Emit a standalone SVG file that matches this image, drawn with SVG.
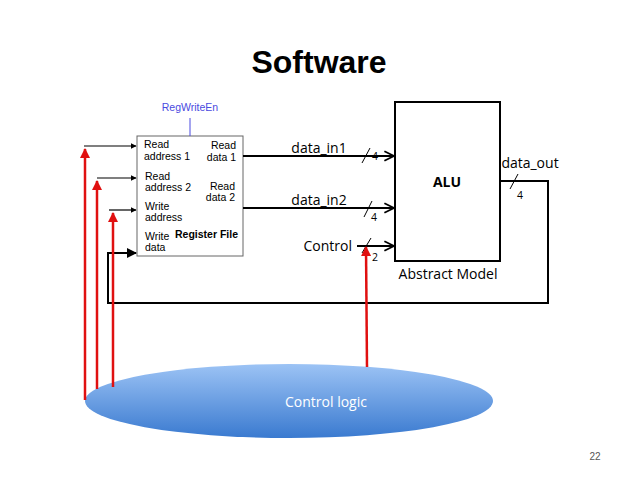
<svg xmlns="http://www.w3.org/2000/svg" width="638" height="478" viewBox="0 0 638 478">
<style>
.b{stroke:#000;stroke-width:2;fill:none}
.r{stroke:#e01010;stroke-width:2.5;fill:none}
.s{font-family:"Liberation Sans",Arial,sans-serif;font-size:10.5px;fill:#000}
.c{font-family:"Open Sans","DejaVu Sans",sans-serif;fill:#000}
</style>
<defs>
<marker id="a" viewBox="0 0 10 10" refX="9" refY="5" markerWidth="5" markerHeight="5" orient="auto"><path d="M0,0L10,5L0,10z" fill="#000"/></marker>
<marker id="o" viewBox="0 0 10 10" refX="9" refY="5" markerWidth="6" markerHeight="6" orient="auto"><path d="M1,1L9,5L1,9" fill="none" stroke="#000" stroke-width="1.5"/></marker>
<marker id="ra" viewBox="0 0 10 10" refX="9" refY="5" markerWidth="4" markerHeight="4" orient="auto"><path d="M0,0L10,5L0,10z" fill="#e01010"/></marker>
<linearGradient id="g" x1="0" y1="0" x2="0" y2="1"><stop offset="0" stop-color="#9cc3f5"/><stop offset="1" stop-color="#3a7ad0"/></linearGradient>
</defs>
<rect width="638" height="478" fill="#fff"/>
<text x="319" y="73" text-anchor="middle" font-family="Liberation Sans,Arial,sans-serif" font-weight="bold" font-size="32">Software</text>
<g id="ctrl">
<ellipse cx="289" cy="401" rx="204" ry="37" fill="url(#g)"/>
<text class="c" x="326" y="407" text-anchor="middle" font-size="14" style="fill:#fff">Control logic</text>
</g>
<g id="regfile">
<rect x="137" y="136" width="106" height="120" fill="#fff" stroke="#666" stroke-width="1"/>
<line x1="190" y1="118" x2="190" y2="136" stroke="#4a4ae0"/>
<text x="190" y="111" text-anchor="middle" font-family="Liberation Sans,Arial,sans-serif" font-size="10.5" fill="#4a4ae0">RegWriteEn</text>
<text class="s" x="144" y="148">Read</text><text class="s" x="144" y="160">address 1</text>
<text class="s" x="145" y="180">Read</text><text class="s" x="145" y="191">address 2</text>
<text class="s" x="145" y="210">Write</text><text class="s" x="145" y="221">address</text>
<text class="s" x="145" y="240">Write</text><text class="s" x="145" y="251">data</text>
<text class="s" x="236" y="149" text-anchor="end">Read</text><text class="s" x="236" y="161" text-anchor="end">data 1</text>
<text class="s" x="235" y="190" text-anchor="end">Read</text><text class="s" x="235" y="201" text-anchor="end">data 2</text>
<text class="s" x="238" y="238" text-anchor="end" font-weight="bold">Register File</text>
</g>
<g id="alu">
<rect x="395" y="102" width="105" height="159" fill="#fff" stroke="#000" stroke-width="2"/>
<text class="c" x="447" y="187" text-anchor="middle" font-size="14" font-weight="bold">ALU</text>
<text class="c" x="448" y="279" text-anchor="middle" font-size="14">Abstract Model</text>
</g>
<g id="connectors">
<line class="b" x1="243" y1="156" x2="394" y2="156" marker-end="url(#o)"/>
<line class="b" x1="243" y1="208" x2="394" y2="208" marker-end="url(#o)"/>
<line class="b" x1="357" y1="246" x2="394" y2="246" marker-end="url(#o)"/>
<path class="b" d="M500,181H548V303H108V253H136" marker-end="url(#a)"/>
<line stroke="#000" stroke-width="1.2" x1="84" y1="146" x2="136" y2="146" marker-end="url(#a)"/>
<line stroke="#000" stroke-width="1.2" x1="97" y1="178" x2="136" y2="178" marker-end="url(#a)"/>
<line stroke="#000" stroke-width="1.2" x1="109" y1="210" x2="136" y2="210" marker-end="url(#a)"/>
<line stroke="#000" stroke-width="1" x1="362" y1="163" x2="370" y2="148"/>
<line stroke="#000" stroke-width="1" x1="364" y1="217" x2="372" y2="201"/>
<line stroke="#000" stroke-width="1" x1="362" y1="253" x2="371" y2="238"/>
<line stroke="#000" stroke-width="1" x1="510" y1="189" x2="518" y2="174"/>
<text class="c" x="319" y="153" text-anchor="middle" font-size="14">data_in1</text>
<text class="c" x="319" y="205" text-anchor="middle" font-size="14">data_in2</text>
<text class="c" x="352" y="251" text-anchor="end" font-size="14">Control</text>
<text class="c" x="530" y="168" text-anchor="middle" font-size="14">data_out</text>
<text class="c" x="372" y="160" font-size="10.5">4</text>
<text class="c" x="371" y="221" font-size="10.5">4</text>
<text class="c" x="372" y="261" font-size="10.5">2</text>
<text class="c" x="517" y="199" font-size="10.5">4</text>
<line class="r" x1="85" y1="400" x2="85" y2="149" marker-end="url(#ra)"/>
<line class="r" x1="97" y1="389" x2="97" y2="181" marker-end="url(#ra)"/>
<line class="r" x1="113" y1="387" x2="113" y2="213" marker-end="url(#ra)"/>
<line class="r" x1="367" y1="367" x2="366" y2="247" marker-end="url(#ra)"/>
</g>
<text x="595" y="460" text-anchor="middle" font-family="Liberation Sans,Arial,sans-serif" font-size="10" fill="#555">22</text>
</svg>
